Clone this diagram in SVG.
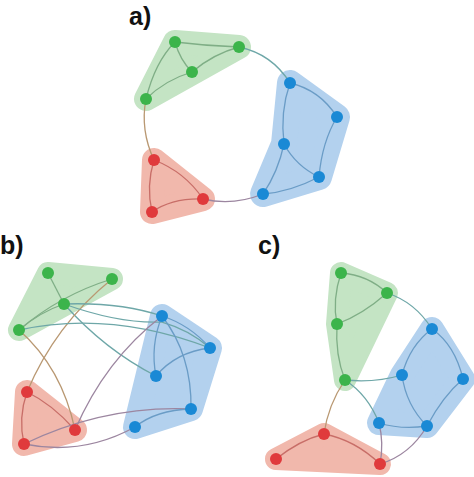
<svg xmlns="http://www.w3.org/2000/svg" width="474" height="477" viewBox="0 0 474 477">
<style>
.hull{stroke-linejoin:round}
.hg{fill:#c4e4c4;stroke:#c4e4c4}
.hb{fill:#b3d1ee;stroke:#b3d1ee}
.hr{fill:#f1b8ac;stroke:#f1b8ac}
.e{fill:none;stroke-width:1.3}
.gg{stroke:#7fae86}
.bb{stroke:#6a9cc6}
.rr{stroke:#c86e68}
.gb{stroke:#6ea7a8}
.gr{stroke:#b99872}
.rb{stroke:#9c86a0}
.ng{fill:#3cb44b}
.nb{fill:#1a89d5}
.nr{fill:#e03a3c}
.lbl{font-family:"Liberation Sans",Arial,sans-serif;font-weight:bold;font-size:25px;fill:#111}
</style>
<rect width="474" height="477" fill="#fff"/>
<g id="hulls">
<polygon class="hull hg" stroke-width="24" points="175,42 239,47 146,99"/>
<polygon class="hull hb" stroke-width="26" points="290,83 337,117 319,177 263,194 284,144"/>
<polygon class="hull hr" stroke-width="24" points="154,160 203,199 152,212"/>
<polygon class="hull hg" stroke-width="22" points="48,273 112,279 19,330"/>
<polygon class="hull hb" stroke-width="24" points="162,316 210,348 191,409 135,427"/>
<polygon class="hull hr" stroke-width="24" points="27,392 75,430 24,444"/>
<polygon class="hull hg" stroke-width="22" points="341,273 387,293 345,380 337,324"/>
<polygon class="hull hb" stroke-width="24" points="432,329 463,379 427,426 379,423 402,375"/>
<polygon class="hull hr" stroke-width="22" points="324,434 380,464 276,459"/>
</g>
<g id="connectors">
<!-- a -->
<path class="e gb" d="M239,47 Q272,54 290,83"/>
<path class="e gr" d="M146,99 Q140,130 154,160"/>
<path class="e rb" d="M203,199 Q233,206 263,194"/>
<path class="e gg" d="M175,42 Q207,46 239,47"/>
<path class="e gg" d="M175,42 Q180,60 192,72"/>
<path class="e gg" d="M175,42 Q155,62 146,99"/>
<path class="e gg" d="M239,47 Q213,54 192,72"/>
<path class="e gg" d="M192,72 Q165,80 146,99"/>
<path class="e rr" d="M154,160 Q185,172 203,199"/>
<path class="e rr" d="M154,160 Q146,186 152,212"/>
<path class="e rr" d="M152,212 Q172,198 203,199"/>
<path class="e bb" d="M290,83 Q320,90 337,117"/>
<path class="e bb" d="M290,83 Q280,112 284,144"/>
<path class="e bb" d="M337,117 Q322,142 319,177"/>
<path class="e bb" d="M284,144 Q296,166 319,177"/>
<path class="e bb" d="M284,144 Q278,172 263,194"/>
<path class="e bb" d="M263,194 Q290,192 319,177"/>
<!-- b -->
<path class="e gg" d="M48,273 L64,304"/>
<path class="e gb" d="M64,304 Q105,350 156,376"/>
<path class="e gg" d="M19,330 Q40,312 64,304"/>
<path class="e gg" d="M19,330 Q60,295 112,279"/>
<path class="e gr" d="M112,279 Q55,325 27,392"/>
<path class="e gb" d="M64,304 Q120,302 162,316"/>
<path class="e gb" d="M64,304 Q120,324 162,322 Q190,330 210,348"/>
<path class="e gb" d="M19,330 Q110,310 210,348"/>
<path class="e gr" d="M19,330 Q62,368 75,430"/>
<path class="e rb" d="M75,430 Q105,360 162,316"/>
<path class="e rr" d="M27,392 Q52,404 75,430"/>
<path class="e rr" d="M27,392 Q18,418 24,444"/>
<path class="e rb" d="M24,444 Q105,405 191,409"/>
<path class="e rb" d="M24,444 Q82,456 135,427"/>
<path class="e bb" d="M162,316 Q190,325 210,348"/>
<path class="e bb" d="M162,316 Q150,346 156,376"/>
<path class="e bb" d="M162,316 Q192,355 191,409"/>
<path class="e bb" d="M210,348 Q176,352 156,376"/>
<path class="e bb" d="M191,409 Q156,410 135,427"/>
<!-- c -->
<path class="e gg" d="M341,273 Q368,275 387,293"/>
<path class="e gg" d="M341,273 Q332,300 337,324"/>
<path class="e gg" d="M387,293 Q362,315 337,324"/>
<path class="e gg" d="M337,324 Q335,355 345,380"/>
<path class="e gb" d="M387,293 Q415,302 432,329"/>
<path class="e gb" d="M345,380 Q375,383 402,375"/>
<path class="e gb" d="M345,380 Q368,395 379,423"/>
<path class="e gr" d="M345,380 Q328,405 324,434"/>
<path class="e bb" d="M432,329 Q410,345 402,375"/>
<path class="e bb" d="M432,329 Q455,345 463,379"/>
<path class="e bb" d="M402,375 Q406,405 427,426"/>
<path class="e bb" d="M463,379 Q443,396 427,426"/>
<path class="e bb" d="M379,423 Q402,430 427,426"/>
<path class="e rb" d="M379,423 Q384,443 380,464"/>
<path class="e rb" d="M427,426 Q410,455 380,464"/>
<path class="e rr" d="M324,434 Q300,440 276,459"/>
<path class="e rr" d="M324,434 Q355,440 380,464"/>
</g>
<g id="panel-a-nodes">
<circle id="a-g1" class="ng" cx="175" cy="42" r="6"/>
<circle id="a-g2" class="ng" cx="239" cy="47" r="6"/>
<circle id="a-g3" class="ng" cx="192" cy="72" r="6"/>
<circle id="a-g4" class="ng" cx="146" cy="99" r="6"/>
<circle id="a-b1" class="nb" cx="290" cy="83" r="6"/>
<circle id="a-b2" class="nb" cx="337" cy="117" r="6"/>
<circle id="a-b3" class="nb" cx="284" cy="144" r="6"/>
<circle id="a-b4" class="nb" cx="319" cy="177" r="6"/>
<circle id="a-b5" class="nb" cx="263" cy="194" r="6"/>
<circle id="a-r1" class="nr" cx="154" cy="160" r="6"/>
<circle id="a-r2" class="nr" cx="203" cy="199" r="6"/>
<circle id="a-r3" class="nr" cx="152" cy="212" r="6"/>
</g>
<g id="panel-b-nodes">
<circle id="b-g1" class="ng" cx="48" cy="273" r="6"/>
<circle id="b-g2" class="ng" cx="112" cy="279" r="6"/>
<circle id="b-g3" class="ng" cx="64" cy="304" r="6"/>
<circle id="b-g4" class="ng" cx="19" cy="330" r="6"/>
<circle id="b-b1" class="nb" cx="162" cy="316" r="6"/>
<circle id="b-b2" class="nb" cx="210" cy="348" r="6"/>
<circle id="b-b3" class="nb" cx="156" cy="376" r="6"/>
<circle id="b-b4" class="nb" cx="191" cy="409" r="6"/>
<circle id="b-b5" class="nb" cx="135" cy="427" r="6"/>
<circle id="b-r1" class="nr" cx="27" cy="392" r="6"/>
<circle id="b-r2" class="nr" cx="75" cy="430" r="6"/>
<circle id="b-r3" class="nr" cx="24" cy="444" r="6"/>
</g>
<g id="panel-c-nodes">
<circle id="c-g1" class="ng" cx="341" cy="273" r="6"/>
<circle id="c-g2" class="ng" cx="387" cy="293" r="6"/>
<circle id="c-g3" class="ng" cx="337" cy="324" r="6"/>
<circle id="c-g4" class="ng" cx="345" cy="380" r="6"/>
<circle id="c-b1" class="nb" cx="432" cy="329" r="6"/>
<circle id="c-b2" class="nb" cx="463" cy="379" r="6"/>
<circle id="c-b3" class="nb" cx="402" cy="375" r="6"/>
<circle id="c-b4" class="nb" cx="427" cy="426" r="6"/>
<circle id="c-b5" class="nb" cx="379" cy="423" r="6"/>
<circle id="c-r1" class="nr" cx="324" cy="434" r="6"/>
<circle id="c-r2" class="nr" cx="276" cy="459" r="6"/>
<circle id="c-r3" class="nr" cx="380" cy="464" r="6"/>
</g>
<g id="labels">
<text class="lbl" x="129" y="25">a)</text>
<text class="lbl" x="0" y="254">b)</text>
<text class="lbl" x="258" y="254">c)</text>
</g>
</svg>
